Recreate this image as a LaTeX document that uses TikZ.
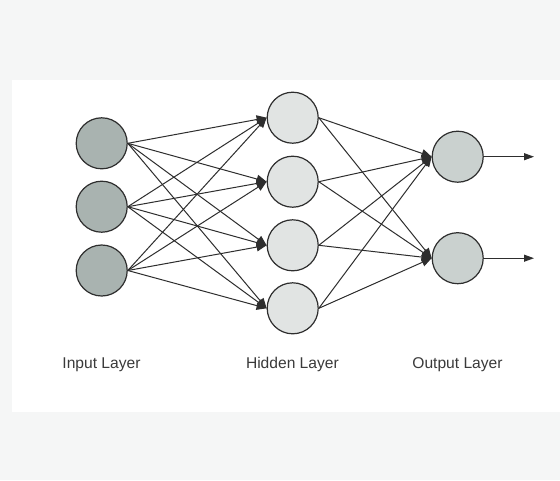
\documentclass[tikz,border=0pt]{standalone}
\usepackage{fontspec}
\setmainfont{Liberation Sans}
\usetikzlibrary{arrows.meta}
\definecolor{outerbg}{HTML}{F5F6F6}
\definecolor{inputfill}{HTML}{A9B3B0}
\definecolor{hiddenfill}{HTML}{E1E4E3}
\definecolor{outputfill}{HTML}{CAD1CF}
\definecolor{edgecol}{HTML}{2E2E2E}
\definecolor{textcol}{HTML}{3A3A3A}
\tikzset{
  neuron/.style={circle, draw=edgecol, line width=1.2pt, minimum size=51pt, inner sep=0pt},
  inneuron/.style={neuron, fill=inputfill},
  hidneuron/.style={neuron, fill=hiddenfill},
  outneuron/.style={neuron, fill=outputfill},
  conn/.style={draw=edgecol, line width=1pt, -{Triangle[length=10pt,width=8.5pt]}},
  outconn/.style={draw=edgecol, line width=1pt, -{Triangle[length=10pt,width=7pt]}},
  layerlabel/.style={text=textcol, font=\fontsize{15.6}{18}\selectfont, inner sep=0pt}
}
\begin{document}
\begin{tikzpicture}[x=1pt,y=-1pt]
\useasboundingbox (0,0) rectangle (560,480);
\fill[outerbg] (0,0) rectangle (560,480);
\fill[white] (12,80) rectangle (560,412);
% input layer
\node[inneuron] (i1) at (101.7,143.3) {};
\node[inneuron] (i2) at (101.7,206.7) {};
\node[inneuron] (i3) at (101.7,270.5) {};
% hidden layer
\node[hidneuron] (h1) at (292.7,117.7) {};
\node[hidneuron] (h2) at (292.7,181.7) {};
\node[hidneuron] (h3) at (292.7,245.3) {};
\node[hidneuron] (h4) at (292.7,308.3) {};
% output layer
\node[outneuron] (o1) at (457.7,156.7) {};
\node[outneuron] (o2) at (457.7,258.2) {};
% output ends
\coordinate (e1) at (534,156.7);
\coordinate (e2) at (534,258.2);
% connections input -> hidden
\foreach \i in {1,2,3} {
  \foreach \h in {1,2,3,4} {
    \draw[conn] (i\i.east) -- (h\h.west);
  }
}
% hidden -> output
\foreach \h in {1,2,3,4} {
  \foreach \o in {1,2} {
    \draw[conn] (h\h.east) -- (o\o.west);
  }
}
\draw[outconn] (o1.east) -- (e1);
\draw[outconn] (o2.east) -- (e2);
% labels
\node[layerlabel] (l1) at (101.5,364.5) {Input Layer};
\node[layerlabel] (l2) at (292.4,364.5) {Hidden Layer};
\node[layerlabel] (l3) at (457.5,364.5) {Output Layer};
\end{tikzpicture}
\end{document}
